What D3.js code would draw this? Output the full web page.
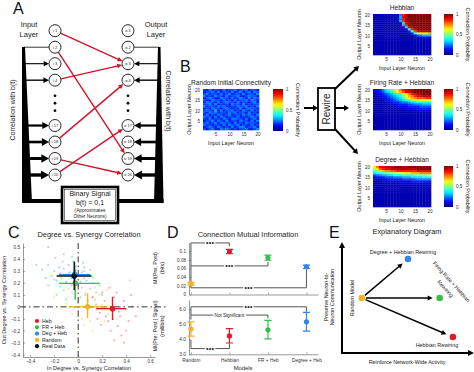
<!DOCTYPE html>
<html>
<head>
<meta charset="utf-8">
<script src="https://cdn.jsdelivr.net/npm/d3@7"></script>
<style>
  body { margin: 0; background: #fff; }
  svg { display: block; }
</style>
</head>
<body>
<script>
const FONT = '"Liberation Sans", Arial, Helvetica, sans-serif';
const RED = '#e3182b', GREEN = '#35c04a', BLUE = '#2f86ec', ORANGE = '#f3b31f';

// ---------- A : network sketch
const neuronIds = [1, 2, 3, 4, 17, 18, 19, 20];
const neuronRow = [0, 1, 2, 3, 5.75, 6.75, 7.75, 8.75];
const ellipsisRow = [3.95, 4.4, 4.85];
const corrWithSignal = [null, 0, 0.12, 0.22, 0.55, 0.7, 0.85, 1.0];
const rewiredLinks = [[1, 3], [2, 19], [4, 3], [18, 4], [19, 20], [20, 17]];

// ---------- B : connectivity matrices (rows y=20 .. y=1, chars 0..k -> 0..1)
const ONES = '11111111111111111111';
const rowsRandom = [
  '43534435344534453443', '34453534435345345354', '45344353453443534435', '53435443534453345443',
  '34543354435345435354', '43354435343534453543', '35443534544353443453', '44535343435443534344',
  '53443545334354453435', '34354434543435345443', '45436353445343543534', '43545344354534435343',
  '35343543453443545435', '54435354344353434544', '43534435435544353453', '34453543534435443535',
  '45345354443534354443', '53434435354453443534', '34543543435345534453', '43453354543434453345'];
const rowsHebbian = [
  '1111111115hjkkkkkkkk', '1111111116ijkkkkkkkk', '1111111115hjkkkkkkkk', '1111111116hkkkkkkkkk',
  '11111111117ijkkkkkkk', '11111111116hkkkkkkkk', '111111111117ijkkkkkk', '1111111111128hjkkkkk',
  '11111111111139gijjjj', '111111111111138bddde', '11111111111111245666', '11111111111111112222',
  ONES, ONES, ONES, ONES, ONES, ONES, ONES, ONES];
const rowsFiring = [
  '2235789bdfhijjkkkkkk', '2234678acegiijkkkkkk', '1223456789bdfhijjkkk', '1122345678acefhiijjj',
  '11122345679bdefggghh', '1111223456789abbcccc', '11111223345567788888', '11111122233344555666',
  '11111111222233334444', '11111111111222223333', '11111111111111122222',
  ONES, ONES, ONES, ONES, ONES, ONES, ONES, ONES, ONES];
const rowsDegree = [
  'cfiijjjkkkjjkkkkkkkk', 'bdghiijjjjjjjjjkkkkk', '9bdeffgghhhhhhhiiiii', '7899aabbcccddeeeffff',
  '45566778889999aaaabb', '23334445556667777888', '22222333334444455555', '11122222222223333333',
  '11111111122222222222',
  ONES, ONES, ONES, ONES, ONES, ONES, ONES, ONES, ONES, ONES, ONES];
const heatTicks = [5, 10, 15, 20];
const cbarTicks = [0, 0.5, 1];

// ---------- C : degree vs synergy
const cloudDeg = [[-0.12,0.32],[-0.08,0.35],[-0.02,0.31],[0.03,0.29],[-0.15,0.28],[-0.2,0.3],[-0.06,0.24],[0.05,0.33],
  [-0.1,0.21],[0.0,0.26],[-0.04,0.38],[0.08,0.27],[-0.18,0.22],[-0.25,0.35],[-0.13,0.38],[0.02,0.21],[-0.07,0.29],
  [0.1,0.31],[-0.22,0.26],[-0.3,0.31],[-0.35,0.35],[-0.05,0.42],[0.04,0.37],[-0.16,0.33],[0.12,0.25],[-0.1,0.27],
  [-0.02,0.34],[-0.27,0.24],[0.07,0.22],[-0.12,0.44],[-0.25,0.5],[-0.19,0.41]];
const cloudFR = [[-0.1,0.2],[0.0,0.18],[0.05,0.24],[-0.15,0.17],[0.1,0.15],[-0.05,0.12],[0.02,0.08],[0.12,0.2],
  [-0.2,0.23],[0.06,0.1],[-0.08,0.28],[0.15,0.12],[-0.02,0.25],[0.08,0.05],[-0.12,0.14],[0.18,0.18],[0.03,0.16],
  [-0.18,0.1],[0.1,0.26],[-0.25,0.18],[0.0,0.03],[0.14,0.06],[-0.06,0.18],[0.2,0.1],[-0.1,0.06],[0.05,0.3],
  [0.12,0.0],[-0.14,0.24],[0.43,0.22]];
const cloudRandom = [[0.08,0.0],[0.0,0.05],[0.15,-0.03],[-0.05,-0.06],[0.12,0.08],[0.2,0.02],[0.03,-0.1],[-0.1,0.03],
  [0.25,-0.06],[0.06,0.12],[0.1,-0.12],[-0.02,0.1],[0.18,0.1],[0.28,0.04],[-0.14,-0.02],[0.05,-0.15],[0.22,-0.12],
  [-0.08,0.15],[0.14,0.16],[0.32,-0.1],[0.0,-0.08],[0.12,-0.2],[-0.2,0.08],[0.24,0.14]];
const cloudHeb = [[0.28,-0.02],[0.22,0.05],[0.35,-0.08],[0.3,0.08],[0.18,-0.05],[0.4,-0.02],[0.25,-0.12],[0.33,-0.16],
  [0.2,0.12],[0.38,0.05],[0.42,-0.12],[0.27,-0.2],[0.15,0.02],[0.32,0.12],[0.36,-0.24],[0.45,0.0],[0.23,-0.08],
  [0.3,-0.28],[0.4,-0.2],[0.12,0.08],[0.48,-0.08],[0.26,0.16],[0.34,-0.04],[0.19,-0.15],[0.44,0.1],[0.29,-0.1],
  [0.38,-0.3],[0.16,-0.1]];
const cGroupNames = ['Heb', 'FR + Heb', 'Deg + Heb', 'Random', 'Real Data'];
const cMeanX = [0.286, -0.025, -0.03, 0.078, -0.033];
const cMeanY = [-0.015, 0.197, 0.27, 0.0, 0.258];
const cRangeX = [[0.15, 0.40], [-0.16, 0.18], [-0.16, 0.10], [-0.08, 0.24], [-0.18, 0.11]];
const cRangeY = [[-0.11, 0.085], [0.06, 0.31], [0.17, 0.37], [-0.095, 0.115], [0.14, 0.38]];
const cTicksX = [-0.4, -0.2, 0, 0.2, 0.4, 0.6];
const cTicksY = [-0.4, -0.3, -0.2, -0.1, 0, 0.1, 0.2, 0.3, 0.4, 0.5];

// ---------- D : mutual information
const models = ['Random', 'Hebbian', 'FR + Heb', 'Degree + Heb'];
const miBits = [0.025, 0.099, 0.085, 0.064];
const miBitsErr = [0.003, 0.005, 0.006, 0.004];
const miSignal = [4.67, 4.22, 4.62, 5.15];
const miSignalLo = [4.2, 3.75, 4.02, 4.53];
const miSignalHi = [5.15, 4.7, 5.25, 5.78];
const sigTopPairs = [[0, 1, 0.119, 0.112, '•••'], [0, 2, 0.066, 0.075, '•••'], [0, 3, 0.0155, 0.058, '•••']];
const sigBotPairs = [[0, 3, 6.15, 5.82, '•••'], [0, 2, 5.6, 5.38, 'Not Significant'], [0, 1, 3.38, 3.71, '•••']];
const miTicksTop = [0, 0.02, 0.04, 0.06, 0.08, 0.1];
const miTicksBot = [3, 4, 5, 6];

// ---------- E : explanatory diagram
const eReinforce = [0.15, 0.5, 0.74, 0.84];
const ePreserve = [0.5, 0.855, 0.5, 0.145];

const modelColors = [ORANGE, RED, GREEN, BLUE];
const cColors = [RED, GREEN, BLUE, ORANGE, '#111'];

const svg = d3.select('body').append('svg')
  .attr('width', 474).attr('height', 372)
  .style('font-family', FONT);

function label(g, x, y, s, size, o = {}) {
  const t = g.append('text').attr('x', x).attr('y', y).text(s)
    .attr('font-size', size).attr('text-anchor', o.anchor || 'middle')
    .attr('fill', o.color || '#222');
  if (o.rotate) t.attr('transform', `rotate(${o.rotate},${x},${y})`);
  if (o.weight) t.attr('font-weight', o.weight);
  return t;
}

function arrow(g, x1, y1, x2, y2, o = {}) {
  const w = o.width || 1, head = o.head || 5, hw = o.hw || 2.5, color = o.color || '#000';
  const a = Math.atan2(y2 - y1, x2 - x1);
  const bx = x2 - head * Math.cos(a), by = y2 - head * Math.sin(a);
  g.append('line').attr('x1', x1).attr('y1', y1).attr('x2', bx + Math.cos(a)).attr('y2', by + Math.sin(a))
    .attr('stroke', color).attr('stroke-width', w);
  g.append('path')
    .attr('d', `M${x2},${y2}L${bx + hw * Math.sin(a)},${by - hw * Math.cos(a)}L${bx - hw * Math.sin(a)},${by + hw * Math.cos(a)}Z`)
    .attr('fill', color);
}

function jet(v) {
  const c = t => Math.max(0, Math.min(1, t));
  const r = c(1.5 - Math.abs(4 * v - 3)), g = c(1.5 - Math.abs(4 * v - 2)), b = c(1.5 - Math.abs(4 * v - 1));
  return d3.rgb(r * 255, g * 255, b * 255).formatHex();
}

function styleAxis(sel, size) {
  sel.attr('font-size', size).attr('font-family', FONT);
  sel.selectAll('text').attr('fill', '#333');
  sel.selectAll('line').attr('stroke', '#555').attr('stroke-width', 0.5);
  sel.select('.domain').attr('stroke', '#555').attr('stroke-width', 0.6);
}

// ================= Panel A
const gA = svg.append('g');
label(gA, 13, 14, 'A', 16, { anchor: 'start', color: '#111' });
const rowY = d3.scaleLinear().domain([0, 8.75]).range([30.7, 175]);
const IN_X = 55, OUT_X = 128, R = 6;
const strokeW = d3.scaleLinear().domain([0, 1]).range([0.8, 3.4]);

label(gA, 29, 27, 'Input', 7.5);
label(gA, 29, 36.5, 'Layer', 7.5);
label(gA, 156, 27, 'Output', 7.5);
label(gA, 156, 36.5, 'Layer', 7.5);
label(gA, 14.5, 110, 'Correlation with b(t)', 7, { rotate: -90 });
label(gA, 165.5, 101, 'Correlation with b(t)', 7, { rotate: 90 });

gA.append('path').attr('d', 'M22,47L25,47L32,203L22,203Z').attr('fill', '#000');
gA.append('path').attr('d', 'M158,47L160.5,47L163.5,203L154,203Z').attr('fill', '#000');
gA.append('rect').attr('x', 22).attr('y', 199).attr('width', 41).attr('height', 4).attr('fill', '#000');
gA.append('rect').attr('x', 117).attr('y', 199).attr('width', 46.5).attr('height', 4).attr('fill', '#000');

neuronIds.forEach((id, i) => {
  const c = corrWithSignal[i];
  if (c === null) return;
  const y = rowY(neuronRow[i]);
  const t = (y - 47) / 156;
  const w = strokeW(c);
  const xl = 25 + t * 7, xr = 158 - t * 4;
  if (c === 0) {
    gA.append('line').attr('x1', xl - 1).attr('y1', y).attr('x2', IN_X - R).attr('y2', y).attr('stroke', '#000').attr('stroke-width', w);
    gA.append('line').attr('x1', xr + 1).attr('y1', y).attr('x2', OUT_X + R).attr('y2', y).attr('stroke', '#000').attr('stroke-width', w);
  } else {
    arrow(gA, xl - 1, y, IN_X - R, y, { width: w, head: 4 + w * 1.2, hw: 1.8 + w * 0.8 });
    arrow(gA, xr + 1, y, OUT_X + R, y, { width: w, head: 4 + w * 1.2, hw: 1.8 + w * 0.8 });
  }
});

rewiredLinks.forEach(([a, b]) => {
  const ya = rowY(neuronRow[neuronIds.indexOf(a)]), yb = rowY(neuronRow[neuronIds.indexOf(b)]);
  const ang = Math.atan2(yb - ya, OUT_X - IN_X);
  arrow(gA, IN_X + R * Math.cos(ang), ya + R * Math.sin(ang), OUT_X - R * Math.cos(ang), yb - R * Math.sin(ang),
    { width: 1.4, head: 5, hw: 2.3, color: '#d0142c' });
});

[[IN_X, 'i'], [OUT_X, 'o']].forEach(([x, p]) => {
  const col = gA.append('g');
  col.selectAll('circle.n').data(neuronIds).join('circle')
    .attr('cx', x).attr('cy', (d, i) => rowY(neuronRow[i])).attr('r', R)
    .attr('fill', '#fff').attr('stroke', '#111').attr('stroke-width', 0.9);
  col.selectAll('text').data(neuronIds).join('text')
    .attr('x', x).attr('y', (d, i) => rowY(neuronRow[i]) + 1.4)
    .attr('text-anchor', 'middle').attr('font-size', 4).attr('fill', '#222')
    .text(d => `${p} ${d}`);
  col.selectAll('circle.dot').data(ellipsisRow).join('circle')
    .attr('cx', x).attr('cy', d => rowY(d)).attr('r', 1.4).attr('fill', '#111');
});

gA.append('rect').attr('x', 62).attr('y', 187).attr('width', 56).attr('height', 36)
  .attr('fill', '#fff').attr('stroke', '#000').attr('stroke-width', 2.6);
gA.append('rect').attr('x', 64.5).attr('y', 189.5).attr('width', 51).attr('height', 31)
  .attr('fill', 'none').attr('stroke', '#000').attr('stroke-width', 0.5);
label(gA, 90, 196, 'Binary Signal', 7);
label(gA, 90, 204.5, 'b(t) = 0,1', 7);
label(gA, 90, 212.3, '(Approximates', 4.8);
label(gA, 90, 218.3, 'Other Neurons)', 4.8);

// ================= heatmaps
function heatmap(g, rows, x0, y0, w, h, title) {
  const hx = d3.scaleLinear().domain([0.5, 20.5]).range([x0, x0 + w]);
  const hy = d3.scaleLinear().domain([0.5, 20.5]).range([y0 + h, y0]);
  const cells = rows.flatMap((r, i) => r.split('').map((ch, j) => ({ c: j + 1, r: 20 - i, v: parseInt(ch, 36) / 20 })));
  g.append('g').selectAll('rect').data(cells).join('rect')
    .attr('x', d => hx(d.c - 0.5)).attr('y', d => hy(d.r + 0.5))
    .attr('width', hx(1.5) - hx(0.5) + 0.3).attr('height', hy(0.5) - hy(1.5) + 0.3)
    .attr('fill', d => jet(d.v));
  g.append('g').attr('transform', `translate(0,${y0 + h})`)
    .call(d3.axisBottom(hx).tickValues(heatTicks).tickSize(0).tickPadding(3))
    .call(s => { s.select('.domain').remove(); styleAxis(s, 4.6); });
  g.append('g').attr('transform', `translate(${x0},0)`)
    .call(d3.axisLeft(hy).tickValues(heatTicks).tickSize(0).tickPadding(3))
    .call(s => { s.select('.domain').remove(); styleAxis(s, 4.6); });
  label(g, x0 + w / 2, y0 + h + 15, 'Input Layer Neuron', 5.4);
  label(g, x0 - 12, y0 + h / 2, 'Output Layer Neuron', 5.4, { rotate: -90 });
  label(g, x0 + w / 2, y0 - 4.5, title, 6.6);
}

const defs = svg.append('defs');
const grad = defs.append('linearGradient').attr('id', 'jet').attr('x1', 0).attr('y1', 1).attr('x2', 0).attr('y2', 0);
d3.range(0, 1.0001, 0.05).forEach(v => grad.append('stop').attr('offset', v).attr('stop-color', jet(v)));

function colorbar(g, x0, y0, w, h, labelX) {
  g.append('rect').attr('x', x0).attr('y', y0).attr('width', w).attr('height', h).attr('fill', 'url(#jet)');
  const cs = d3.scaleLinear().domain([0, 1]).range([y0 + h, y0]);
  g.append('g').attr('transform', `translate(${x0 + w},0)`)
    .call(d3.axisRight(cs).tickValues(cbarTicks).tickFormat(d3.format('')).tickSize(0).tickPadding(3))
    .call(s => { s.select('.domain').remove(); styleAxis(s, 4.6); });
  label(g, labelX, y0 + h / 2, 'Connection Probability', 5.4, { rotate: 90 });
}

const gB = svg.append('g');
label(gB, 180, 72, 'B', 16, { anchor: 'start', color: '#111' });
heatmap(gB, rowsRandom, 203, 89, 56, 41, 'Random Initial Connectivity');
colorbar(gB, 273, 89, 10, 42, 296);

const gR = svg.append('g');
heatmap(gR, rowsHebbian, 373, 14, 58, 41, 'Hebbian');
colorbar(gR, 444, 14, 9, 41, 466);
heatmap(gR, rowsFiring, 373, 89, 58, 41, 'Firing Rate + Hebbian');
colorbar(gR, 444, 89, 9, 41, 466);
heatmap(gR, rowsDegree, 373, 166, 58, 41, 'Degree + Hebbian');
colorbar(gR, 444, 166, 9, 41, 466);

gR.append('rect').attr('x', 318).attr('y', 88).attr('width', 17).attr('height', 42)
  .attr('fill', '#fff').attr('stroke', '#000').attr('stroke-width', 1.8);
label(gR, 330, 109, 'Rewire', 10, { rotate: -90 }).attr('dominant-baseline', 'auto');
arrow(gR, 304, 108, 318, 108, { width: 2, head: 5, hw: 3 });
arrow(gR, 335, 89, 359, 66, { width: 2, head: 5, hw: 3 });
arrow(gR, 335, 108, 349, 108, { width: 2, head: 5, hw: 3 });
arrow(gR, 335, 129, 358, 154, { width: 2, head: 5, hw: 3 });

// ================= Panel C
const gC = svg.append('g');
label(gC, 8, 238, 'C', 16, { anchor: 'start', color: '#111' });
label(gC, 89, 237, 'Degree vs. Synergy Correlation', 7.4);
const cx = d3.scaleLinear().domain([-0.46, 0.64]).range([23, 155]);
const cy = d3.scaleLinear().domain([-0.42, 0.535]).range([357, 243]);

[[cloudRandom, ORANGE], [cloudHeb, RED], [cloudFR, GREEN], [cloudDeg, BLUE]].forEach(([pts, col]) => {
  gC.append('g').selectAll('circle').data(pts).join('circle')
    .attr('cx', d => cx(d[0])).attr('cy', d => cy(d[1])).attr('r', 1.1)
    .attr('fill', col).attr('fill-opacity', 0.35);
});

gC.append('line').attr('x1', 20).attr('x2', 166).attr('y1', cy(0)).attr('y2', cy(0))
  .attr('stroke', '#333').attr('stroke-width', 1).attr('stroke-dasharray', '6,3,1.5,3');
gC.append('line').attr('x1', cx(0)).attr('x2', cx(0)).attr('y1', 243).attr('y2', 357)
  .attr('stroke', '#333').attr('stroke-width', 1).attr('stroke-dasharray', '6,3,1.5,3');

gC.append('g').attr('transform', 'translate(0,357)')
  .call(d3.axisBottom(cx).tickValues(cTicksX).tickSizeInner(-2).tickSizeOuter(0).tickPadding(3)
    .tickFormat(d => d === 0 ? '0' : d3.format('.1f')(d)))
  .call(s => styleAxis(s, 4.6));
gC.append('g').attr('transform', 'translate(23,0)')
  .call(d3.axisLeft(cy).tickValues(cTicksY).tickSizeInner(-2).tickSizeOuter(0).tickPadding(3)
    .tickFormat(d => d === 0 ? '0' : d3.format('.1f')(d)))
  .call(s => styleAxis(s, 4.6));

[3, 0, 2, 1, 4].forEach(i => {
  const col = cColors[i];
  gC.append('line').attr('x1', cx(cRangeX[i][0])).attr('x2', cx(cRangeX[i][1]))
    .attr('y1', cy(cMeanY[i])).attr('y2', cy(cMeanY[i])).attr('stroke', col).attr('stroke-width', 1.4);
  gC.append('line').attr('x1', cx(cMeanX[i])).attr('x2', cx(cMeanX[i]))
    .attr('y1', cy(cRangeY[i][0])).attr('y2', cy(cRangeY[i][1])).attr('stroke', col).attr('stroke-width', 1.4);
  gC.append('circle').attr('cx', cx(cMeanX[i])).attr('cy', cy(cMeanY[i])).attr('r', 2.8).attr('fill', col);
});

const legC = gC.append('g');
legC.selectAll('circle').data(cGroupNames).join('circle')
  .attr('cx', 37).attr('cy', (d, i) => 321 + i * 6.3).attr('r', 2.1).attr('fill', (d, i) => cColors[i]);
legC.selectAll('text').data(cGroupNames).join('text')
  .attr('x', 42).attr('y', (d, i) => 322.8 + i * 6.3).attr('font-size', 5.2).attr('fill', '#222').text(d => d);

label(gC, 89, 370, 'In Degree vs. Synergy Correlation', 5.6);
label(gC, 6, 300, 'Out Degree vs. Synergy Correlation', 5.6, { rotate: -90 });

// ================= Panel D
const gD = svg.append('g');
label(gD, 167, 238, 'D', 16, { anchor: 'start', color: '#111' });
label(gD, 248, 237, 'Connection Mutual Information', 7.4);
const dx = d3.scaleLinear().domain([0.95, 4.3]).range([189, 318]);
const dyTop = d3.scaleLinear().domain([0, 0.12]).range([294.5, 242.5]);
const dyBot = d3.scaleLinear().domain([3, 6.6]).range([354.3, 300]);

gD.append('g').attr('transform', 'translate(0,294.5)')
  .call(d3.axisBottom(dx).tickValues([1, 2, 3, 4]).tickSizeInner(-2).tickSizeOuter(0).tickFormat(''))
  .call(s => styleAxis(s, 4.6));
gD.append('g').attr('transform', 'translate(189,0)')
  .call(d3.axisLeft(dyTop).tickValues(miTicksTop).tickSizeInner(-2).tickSizeOuter(0).tickPadding(3).tickFormat(d3.format('')))
  .call(s => styleAxis(s, 4.6));
gD.append('g').attr('transform', 'translate(0,354.3)')
  .call(d3.axisBottom(dx).tickValues([1, 2, 3, 4]).tickSizeInner(-2).tickSizeOuter(0).tickPadding(4)
    .tickFormat((d, i) => models[i]))
  .call(s => styleAxis(s, 4.8));
gD.append('g').attr('transform', 'translate(189,0)')
  .call(d3.axisLeft(dyBot).tickValues(miTicksBot).tickSizeInner(-2).tickSizeOuter(0).tickPadding(3))
  .call(s => styleAxis(s, 4.8));

function brackets(g, pairs, ys, leftTo) {
  const top = d3.max(pairs, p => p[2]), bottom = d3.min(pairs, p => p[2]);
  pairs.forEach(([a, b, lvl, end, txt]) => {
    g.append('path')
      .attr('d', `M${dx(a + 1)},${ys(lvl)}H${dx(b + 1)}V${ys(end)}`)
      .attr('fill', 'none').attr('stroke', '#555').attr('stroke-width', 1);
  });
  leftTo.forEach(([from, to]) => {
    g.append('line').attr('x1', dx(1)).attr('x2', dx(1)).attr('y1', ys(from)).attr('y2', ys(to))
      .attr('stroke', '#555').attr('stroke-width', 1);
  });
  pairs.forEach(([a, b, lvl, end, txt]) => {
    const big = txt === '•••';
    label(g, (dx(a + 1) + dx(b + 1)) / 2, ys(lvl) + (big ? 2.2 : 1.6), txt, big ? 7 : 4.6, { color: '#222' })
      .attr('stroke', '#fff').attr('stroke-width', 3).attr('paint-order', 'stroke')
      .attr('letter-spacing', big ? 0.3 : 0);
  });
}
brackets(gD, sigTopPairs, dyTop, [[0.119, 0.0155]]);
brackets(gD, sigBotPairs.slice(0, 2), dyBot, [[6.15, 5.3]]);
brackets(gD, sigBotPairs.slice(2), dyBot, [[3.38, 3.95]]);

models.forEach((m, i) => {
  const x = dx(i + 1), col = modelColors[i];
  const bars = [[dyTop(miBits[i] - miBitsErr[i]), dyTop(miBits[i] + miBitsErr[i]), dyTop(miBits[i])],
                [dyBot(miSignalLo[i]), dyBot(miSignalHi[i]), dyBot(miSignal[i])]];
  bars.forEach(([y1, y2, yc]) => {
    gD.append('path').attr('d', `M${x},${y1}V${y2}M${x - 3.6},${y1}H${x + 3.6}M${x - 3.6},${y2}H${x + 3.6}`)
      .attr('stroke', col).attr('stroke-width', 1.2).attr('fill', 'none');
    gD.append('circle').attr('cx', x).attr('cy', yc).attr('r', 2.6).attr('fill', col);
  });
});

label(gD, 157, 268, 'MI(Pre; Post)', 5.4, { rotate: -90 });
label(gD, 163.5, 268, '(bits)', 5.4, { rotate: -90 });
label(gD, 157, 326, 'MI(Pre; Post | Signal)', 5.4, { rotate: -90 });
label(gD, 163.5, 326, '(millibits)', 5.4, { rotate: -90 });
label(gD, 243, 370, 'Models', 5.8);

// ================= Panel E
const gE = svg.append('g');
label(gE, 329, 238, 'E', 16, { anchor: 'start', color: '#111' });
label(gE, 407, 234, 'Explanatory Diagram', 7.4);
const ex = d3.scaleLinear().domain([0, 1]).range([342, 474]);
const ey = d3.scaleLinear().domain([0, 1]).range([353, 243]);
arrow(gE, ex(0), ey(0) + 1, ex(0), 242, { width: 2, head: 6, hw: 3 });
arrow(gE, ex(0) - 1, ey(0), 474, ey(0), { width: 2, head: 6, hw: 3 });

[1, 2, 3].forEach(i => {
  const x1 = ex(eReinforce[0]), y1 = ey(ePreserve[0]);
  const x2 = ex(eReinforce[i]), y2 = ey(ePreserve[i]);
  const a = Math.atan2(y2 - y1, x2 - x1);
  arrow(gE, x1 + 4 * Math.cos(a), y1 + 4 * Math.sin(a), x2 - 7 * Math.cos(a), y2 - 7 * Math.sin(a),
    { width: 1.5, head: 5, hw: 2.6 });
});
gE.selectAll('circle').data(eReinforce).join('circle')
  .attr('cx', d => ex(d)).attr('cy', (d, i) => ey(ePreserve[i])).attr('r', 3.3)
  .attr('fill', (d, i) => [ORANGE, BLUE, GREEN, RED][i]);

label(gE, 354, 298, 'Random Model', 5.4, { rotate: -90 });
label(gE, 403, 254, 'Degree + Hebbian Rewiring', 5.4);
label(gE, 450, 283, 'Firing Rate + Hebbian', 5.4, { rotate: 48 });
label(gE, 444, 290, 'Rewiring', 5.4, { rotate: 48 });
label(gE, 437, 347, 'Hebbian Rewiring', 5.4);
label(gE, 407, 364, 'Reinforce Network-Wide Activity', 5.4);
label(gE, 327.5, 297, 'Preserve Neuron-to-', 5.4, { rotate: -90 });
label(gE, 334, 297, 'Neuron Communication', 5.4, { rotate: -90 });
</script>
</body>
</html>
